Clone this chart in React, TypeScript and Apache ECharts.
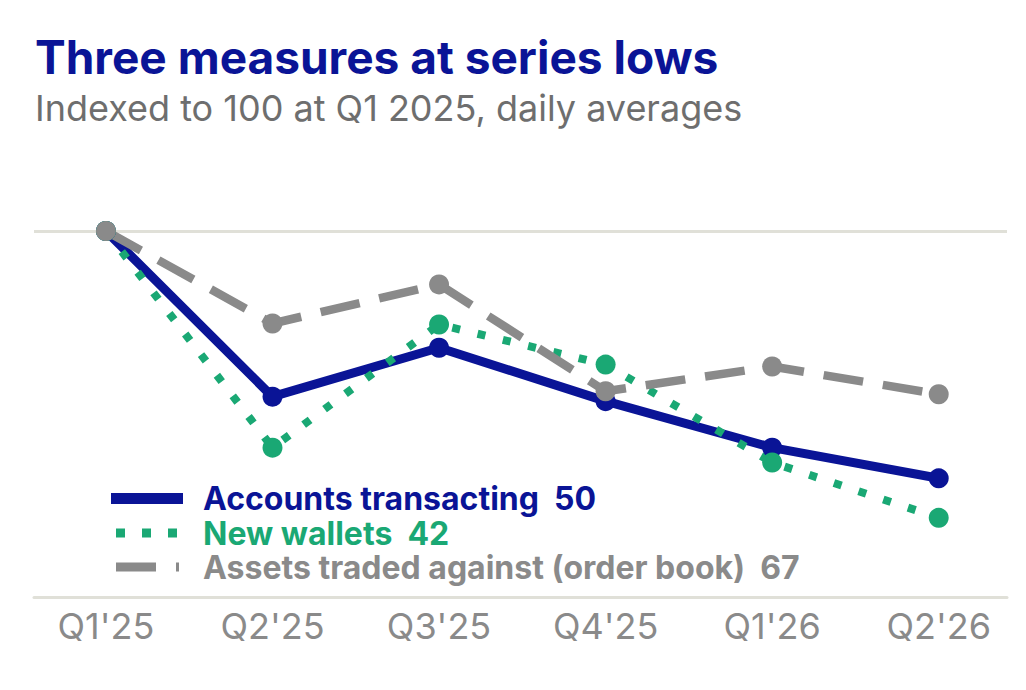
import { useEffect, useRef } from 'react'
import * as echarts from 'echarts'

const quarters = ["Q1'25", "Q2'25", "Q3'25", "Q4'25", "Q1'26", "Q2'26"]
const accounts = [100, 66.5, 76.4, 65.6, 56.2, 50]
const newWallets = [100, 56.2, 81.1, 73, 53.2, 42]
const assetsTraded = [100, 81.3, 89.2, 67.6, 72.6, 67]

const seriesNames = ['Accounts transacting', 'New wallets', 'Assets traded against (order book)']

const BLUE = '#0a1496'
const GREEN = '#1aa874'
const GREY = '#8a8a8a'
const RULE = '#e0e0d8'
const FONT = 'Inter, "DejaVu Sans", sans-serif'

function pts(values: number[]): [number, number][] {
  return values.map((v, i) => [i, v])
}

function lastOf(values: number[]): number {
  return values[values.length - 1]
}

export default function App() {
  const hostRef = useRef<HTMLDivElement | null>(null)

  useEffect(() => {
    const host = hostRef.current
    if (!host) return
    const chart = echarts.init(host, undefined, { renderer: 'svg' })

    // bottom padding lifts the label a little above the icon's centre
    const legendText = (color: string, padLeft: number, padBottom: number) => ({
      color,
      fontFamily: FONT,
      fontSize: 32,
      fontWeight: 'bold' as const,
      lineHeight: 34,
      padding: [0, 0, padBottom, padLeft],
    })

    chart.setOption({
      animation: false,
      title: {
        text: 'Three measures at series lows',
        subtext: 'Indexed to 100 at Q1 2025, daily averages',
        left: 35,
        top: 34,
        padding: 0,
        itemGap: 10,
        textStyle: { color: BLUE, fontFamily: FONT, fontSize: 46, fontWeight: 'bold' },
        subtextStyle: { color: '#6e6e6e', fontFamily: FONT, fontSize: 36, fontWeight: 'normal' },
      },
      grid: { left: 34, right: 19, top: 231, bottom: 93 },
      xAxis: {
        type: 'value',
        min: -0.432,
        max: 5.41,
        axisLine: { show: true, lineStyle: { color: RULE, width: 3 } },
        axisTick: { show: false },
        splitLine: { show: false },
        axisLabel: {
          customValues: quarters.map((_, i) => i),
          formatter: (v: number) => quarters[Math.round(v)] ?? '',
          color: GREY,
          fontFamily: FONT,
          fontSize: 36,
          margin: 11,
        },
      },
      yAxis: {
        type: 'value',
        min: 26,
        max: 100,
        interval: 74,
        axisLine: { show: false },
        axisTick: { show: false },
        axisLabel: { show: false },
        splitLine: { show: true, lineStyle: { color: RULE, width: 3 } },
      },
      legend: [
        {
          data: [seriesNames[0]],
          left: 111,
          top: 474.5,
          padding: 0,
          orient: 'vertical',
          icon: 'rect',
          itemWidth: 72,
          itemHeight: 11,
          itemStyle: { borderWidth: 0 },
          selectedMode: false,
          formatter: (n: string) => `${n}  ${lastOf(accounts)}`,
          textStyle: legendText(BLUE, 15, 14),
        },
        {
          data: [seriesNames[1]],
          left: 116,
          top: 510,
          padding: 0,
          orient: 'vertical',
          icon: 'path://M0 0h9v9h-9zM26 0h9v9h-9zM52 0h9v9h-9z',
          itemWidth: 61,
          itemHeight: 9,
          itemStyle: { borderWidth: 0 },
          selectedMode: false,
          formatter: (n: string) => `${n}  ${lastOf(newWallets)}`,
          textStyle: legendText(GREEN, 21, 12),
        },
        {
          data: [seriesNames[2]],
          left: 116,
          top: 546,
          padding: 0,
          orient: 'vertical',
          icon: 'path://M0 0h40v9h-40zM60 0h3v9h-3z',
          itemWidth: 63,
          itemHeight: 9,
          itemStyle: { borderWidth: 0 },
          selectedMode: false,
          formatter: (n: string) => `${n}  ${lastOf(assetsTraded)}`,
          textStyle: legendText(GREY, 19, 8),
        },
      ],
      series: [
        {
          name: seriesNames[0],
          type: 'line',
          data: pts(accounts),
          symbol: 'circle',
          symbolSize: 20,
          color: BLUE,
          itemStyle: { color: BLUE, borderWidth: 0 },
          lineStyle: { color: BLUE, width: 9 },
        },
        {
          name: seriesNames[1],
          type: 'line',
          data: pts(newWallets),
          symbol: 'circle',
          symbolSize: 20,
          color: GREEN,
          itemStyle: { color: GREEN, borderWidth: 0 },
          lineStyle: { color: GREEN, width: 8, type: [8, 18] },
        },
        {
          name: seriesNames[2],
          type: 'line',
          data: pts(assetsTraded),
          symbol: 'circle',
          symbolSize: 20,
          color: GREY,
          itemStyle: { color: GREY, borderWidth: 0 },
          lineStyle: { color: GREY, width: 8.5, type: [40, 20] },
        },
      ],
    })

    return () => {
      chart.dispose()
    }
  }, [])

  return (
    <div
      ref={hostRef}
      style={{ position: 'absolute', left: 0, top: 0, width: 1026, height: 690, background: '#fff' }}
    />
  )
}
